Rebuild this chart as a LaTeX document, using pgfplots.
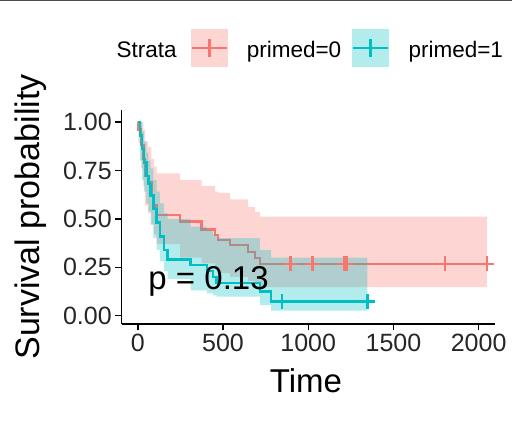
\documentclass[border=0pt]{standalone}
\usepackage{pgfplots}
\pgfplotsset{compat=1.18}
\usepackage{pgfplotstable}
\usepackage{fontspec}
\setmainfont{Liberation Sans}
\definecolor{cred}{HTML}{F8766D}
\definecolor{cteal}{HTML}{00BFC4}

\pgfplotstableread{
t S
0 1.00
3 0.96
20 0.88
32 0.81
42 0.72
60 0.69
80 0.62
95 0.57
111 0.52
248 0.485
375 0.446
453 0.417
471 0.39
541 0.365
647 0.33
687 0.298
717 0.267
2048 0.267
}\redtab

\pgfplotstableread{
t S
0 1.00
12 0.93
25 0.86
35 0.79
50 0.72
62 0.68
75 0.62
92 0.55
110 0.48
130 0.41
155 0.34
175 0.29
310 0.262
405 0.23
440 0.20
462 0.168
717 0.125
782 0.072
1347 0.072
}\tealtab

\pgfplotstableread{
t S
897 0.267
1024 0.267
1210 0.267
1226 0.267
1803 0.267
2048 0.267
}\redcens

\pgfplotstableread{
t S
845 0.072
1347 0.072
}\tealcens

\begin{document}
\begin{tikzpicture}[x=1pt,y=1pt]
\path[use as bounding box] (0,0) rectangle (512,422);
\draw[black!70, line width=1.2pt] (0,421.4) -- (512,421.4);
\begin{axis}[
  at={(121.7pt,98pt)}, anchor=south west,
  scale only axis, width=373.3pt, height=214pt,
  xmin=-94.5, xmax=2096, ymin=-0.043, ymax=1.062,
  axis lines*=left,
  axis line style={line width=1.4pt, black, -},
  tick align=outside, major tick length=6.5pt,
  tick style={line width=1.4pt, black},
  xtick={0,500,1000,1500,2000},
  xticklabels={0,500,1000,1500,2000},
  ytick={0,0.25,0.5,0.75,1},
  yticklabels={0.00,0.25,0.50,0.75,1.00},
  /pgf/number format/assume math mode=true,
  tick label style={font=\fontsize{25}{25}\selectfont, black!85},
  xlabel={Time},
  ylabel={Survival probability},
  xlabel style={font=\fontsize{33}{33}\selectfont, at={(axis description cs:0.4937,-0.3224)}, anchor=base},
  ylabel style={font=\fontsize{34}{34}\selectfont, at={(axis description cs:-0.2189,0.5)}, anchor=base},
]
% red confidence band
\addplot[fill=cred, fill opacity=0.3, draw=none, forget plot] coordinates {
(0,1.00)(3,1.00)(32,1.00)(32,0.96)(42,0.96)(42,0.90)(60,0.90)(60,0.87)
(80,0.87)(80,0.81)(95,0.81)(95,0.77)(111,0.77)(111,0.735)(248,0.735)(248,0.70)
(375,0.70)(375,0.67)(453,0.67)(453,0.64)(471,0.64)(471,0.634)(541,0.634)(541,0.60)
(647,0.60)(647,0.56)(687,0.56)(687,0.535)(717,0.535)(717,0.511)(2048,0.511)
(2048,0.147)(717,0.147)(717,0.16)(687,0.16)(687,0.18)(647,0.18)(647,0.20)
(541,0.20)(541,0.22)(471,0.22)(471,0.245)(453,0.245)(453,0.27)(375,0.27)(375,0.30)
(248,0.30)(248,0.37)(111,0.37)(111,0.42)(95,0.42)(95,0.47)(80,0.47)(80,0.53)
(60,0.53)(60,0.57)(42,0.57)(42,0.67)(32,0.67)(32,0.76)(20,0.76)(20,0.89)
(3,0.89)(3,1.00)(0,1.00)} -- cycle;
\addplot[cred, line width=2.5pt, const plot, forget plot] table[x=t,y=S]{\redtab};

% teal confidence band
\addplot[fill=cteal, fill opacity=0.3, draw=none, forget plot] coordinates {
(0,1)(25,1)(25,0.95)(35,0.95)(35,0.90)(50,0.90)(50,0.84)(62,0.84)(62,0.80)
(75,0.80)(75,0.76)(92,0.76)(92,0.70)(110,0.70)(110,0.64)(130,0.64)(130,0.58)
(155,0.58)(155,0.53)(175,0.53)(175,0.50)(310,0.50)(310,0.46)(405,0.46)(405,0.44)
(440,0.44)(440,0.42)(462,0.42)(462,0.40)(717,0.40)(717,0.34)(782,0.34)(782,0.30)(1347,0.30)
(1347,0.026)(782,0.026)(782,0.055)(717,0.055)(717,0.098)(462,0.098)(462,0.105)
(440,0.105)(440,0.115)(405,0.115)(405,0.13)(310,0.13)(310,0.19)(175,0.19)(175,0.23)
(155,0.23)(155,0.28)(130,0.28)(130,0.34)(110,0.34)(110,0.40)(92,0.40)(92,0.47)
(75,0.47)(75,0.54)(62,0.54)(62,0.58)(50,0.58)(50,0.64)(35,0.64)(35,0.70)
(25,0.70)(25,0.80)(12,0.80)(12,1.00)(0,1.00)} -- cycle;
\addplot[cteal, line width=2.5pt, const plot, forget plot] table[x=t,y=S]{\tealtab};

\addplot[cred, only marks, mark=+, mark size=7.5pt, line width=2.5pt, forget plot] table[x=t,y=S]{\redcens};
\addplot[cteal, only marks, mark=+, mark size=7.5pt, line width=2.5pt, forget plot] table[x=t,y=S]{\tealcens};

\node[anchor=base west, font=\fontsize{33}{33}\selectfont] at (axis cs:42,0.133) {p = 0.13};
\end{axis}
% legend
\node[anchor=base west, font=\fontsize{22.5}{22.5}\selectfont] at (113,364) {Strata};
\fill[cred, opacity=0.3] (190.7,355) rectangle (228.3,393);
\draw[cred, line width=2.5pt] (192,374) -- (227,374);
\draw[cred, line width=2.5pt] (209.5,365) -- (209.5,383);
\node[anchor=base west, font=\fontsize{22.5}{22.5}\selectfont] at (243.3,364) {primed=0};
\fill[cteal, opacity=0.3] (351.7,355) rectangle (389.3,393);
\draw[cteal, line width=2.5pt] (353,374) -- (388,374);
\draw[cteal, line width=2.5pt] (370.5,365) -- (370.5,383);
\node[anchor=base west, font=\fontsize{22.5}{22.5}\selectfont] at (405,364) {primed=1};
\end{tikzpicture}
\end{document}
